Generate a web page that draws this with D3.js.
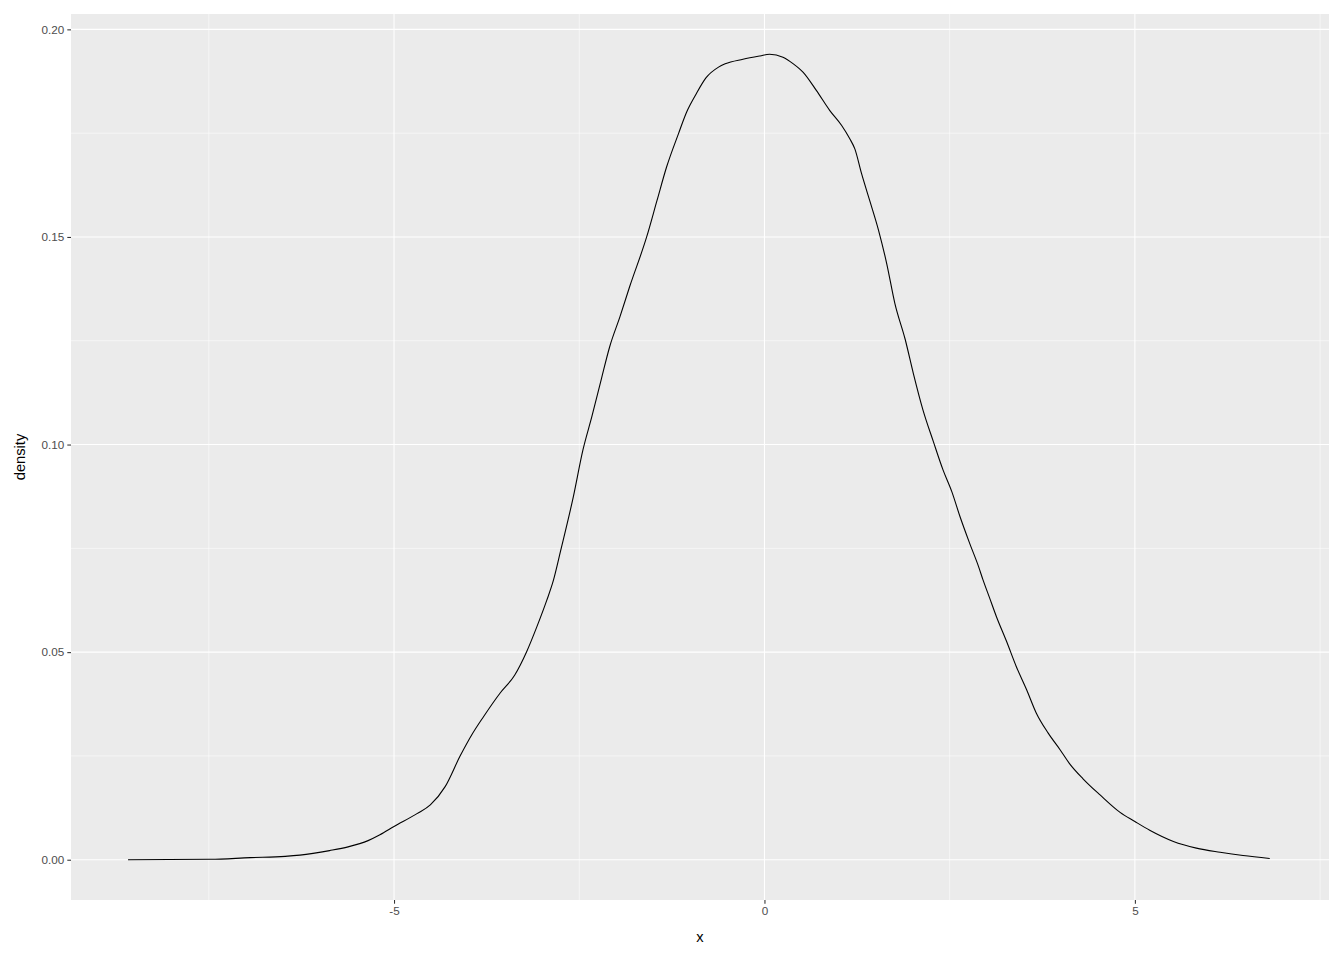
<!DOCTYPE html>
<html>
<head>
<meta charset="utf-8">
<script src="https://cdn.jsdelivr.net/npm/d3@7"></script>
<style>
body { margin: 0; background: #fff; }
svg { display: block; }
</style>
</head>
<body>
<svg id="chart" width="1344" height="960"></svg>
<script>
const xValues = [-8.59, -7.48, -6.94, -6.47, -6.27, -5.87, -5.62, -5.35, -5.19, -5.0, -4.69, -4.51, -4.31, -4.11, -3.95, -3.79, -3.57, -3.37, -3.21, -3.07, -2.94, -2.85, -2.75, -2.58, -2.45, -2.33, -2.20, -2.09, -1.95, -1.82, -1.59, -1.45, -1.32, -1.16, -1.05, -0.92, -0.79, -0.62, -0.53, -0.29, -0.06, 0.07, 0.25, 0.39, 0.52, 0.70, 0.88, 1.04, 1.15, 1.22, 1.31, 1.42, 1.54, 1.65, 1.76, 1.90, 2.01, 2.14, 2.28, 2.41, 2.53, 2.64, 2.77, 2.89, 2.95, 3.04, 3.13, 3.27, 3.40, 3.54, 3.67, 3.83, 3.99, 4.12, 4.30, 4.53, 4.80, 5.0, 5.20, 5.52, 5.83, 6.15, 6.46, 6.82];
const densityValues = [0, 0.0001, 0.0005, 0.0008, 0.0011, 0.0022, 0.0031, 0.0046, 0.006, 0.008, 0.0111, 0.0132, 0.0176, 0.0249, 0.0301, 0.0345, 0.0401, 0.0445, 0.0501, 0.0562, 0.0624, 0.0672, 0.0745, 0.0874, 0.0987, 0.1067, 0.1159, 0.1235, 0.1308, 0.138, 0.150, 0.1588, 0.1669, 0.1749, 0.1801, 0.1845, 0.1883, 0.1909, 0.1917, 0.1928, 0.1936, 0.194, 0.1933, 0.1917, 0.1897, 0.1853, 0.1805, 0.1769, 0.1737, 0.1712, 0.1653, 0.1588, 0.1516, 0.1436, 0.134, 0.1253, 0.1171, 0.1083, 0.1007, 0.0939, 0.0886, 0.0826, 0.0762, 0.0706, 0.0674, 0.063, 0.0586, 0.0525, 0.0465, 0.0409, 0.0353, 0.0305, 0.0265, 0.0231, 0.0195, 0.0156, 0.0114, 0.0092, 0.0071, 0.0044, 0.0028, 0.0018, 0.001, 0.0003];
const xTicks = [-5, 0, 5];
const xMinor = [-7.5, -2.5, 2.5, 7.5];
const yTicks = [0, 0.05, 0.10, 0.15, 0.20];
const yMinor = [0.025, 0.075, 0.125, 0.175];
const xLabel = "x";
const yLabel = "density";

const svg = d3.select("#chart");
const pLeft = 71, pRight = 1329, pTop = 14, pBottom = 900;

const x = d3.scaleLinear().domain([-9.36, 7.62]).range([pLeft, pRight]);
const y = d3.scaleLinear().domain([-0.0097, 0.2037]).range([pBottom, pTop]);

svg.append("rect").attr("x", pLeft).attr("y", pTop)
  .attr("width", pRight - pLeft).attr("height", pBottom - pTop).attr("fill", "#EBEBEB");

const grid = svg.append("g");
grid.selectAll(".xmin").data(xMinor.filter(v => x(v) >= pLeft && x(v) <= pRight)).enter().append("line")
  .attr("x1", d => x(d)).attr("x2", d => x(d)).attr("y1", pTop).attr("y2", pBottom)
  .attr("stroke", "#fff").attr("stroke-width", 0.53);
grid.selectAll(".ymin").data(yMinor).enter().append("line")
  .attr("y1", d => y(d)).attr("y2", d => y(d)).attr("x1", pLeft).attr("x2", pRight)
  .attr("stroke", "#fff").attr("stroke-width", 0.53);
grid.selectAll(".xmaj").data(xTicks).enter().append("line")
  .attr("x1", d => x(d)).attr("x2", d => x(d)).attr("y1", pTop).attr("y2", pBottom)
  .attr("stroke", "#fff").attr("stroke-width", 1.07);
grid.selectAll(".ymaj").data(yTicks).enter().append("line")
  .attr("y1", d => y(d)).attr("y2", d => y(d)).attr("x1", pLeft).attr("x2", pRight)
  .attr("stroke", "#fff").attr("stroke-width", 1.07);

const data = xValues.map((v, i) => [v, densityValues[i]]);
const line = d3.line().x(d => x(d[0])).y(d => y(d[1])).curve(d3.curveMonotoneX);
svg.append("path").datum(data).attr("d", line)
  .attr("fill", "none").attr("stroke", "#000").attr("stroke-width", 1.1)
  .attr("stroke-linejoin", "round").attr("stroke-linecap", "butt");

const fontFam = "'Liberation Sans', Arial, sans-serif";

const xAxis = d3.axisBottom(x).tickValues(xTicks).tickSize(3.7).tickPadding(3)
  .tickFormat(d => String(d));
const gx = svg.append("g").attr("transform", `translate(0,${pBottom})`).call(xAxis);
gx.select(".domain").remove();
gx.selectAll(".tick line").attr("stroke", "#333333").attr("stroke-width", 1.07);
gx.selectAll(".tick text").attr("fill", "#4D4D4D").style("font-family", fontFam).style("font-size", "11.7px");

const yAxis = d3.axisLeft(y).tickValues(yTicks).tickSize(3.7).tickPadding(3)
  .tickFormat(d => d.toFixed(2));
const gy = svg.append("g").attr("transform", `translate(${pLeft},0)`).call(yAxis);
gy.select(".domain").remove();
gy.selectAll(".tick line").attr("stroke", "#333333").attr("stroke-width", 1.07);
gy.selectAll(".tick text").attr("fill", "#4D4D4D").style("font-family", fontFam).style("font-size", "11.7px");

svg.append("text").attr("x", (pLeft + pRight) / 2).attr("y", 942)
  .attr("text-anchor", "middle").style("font-family", fontFam).style("font-size", "14.7px")
  .attr("fill", "#000").text(xLabel);
svg.append("text").attr("transform", `translate(25,${(pTop + pBottom) / 2}) rotate(-90)`)
  .attr("text-anchor", "middle").style("font-family", fontFam).style("font-size", "14.7px")
  .attr("fill", "#000").text(yLabel);
</script>
</body>
</html>
